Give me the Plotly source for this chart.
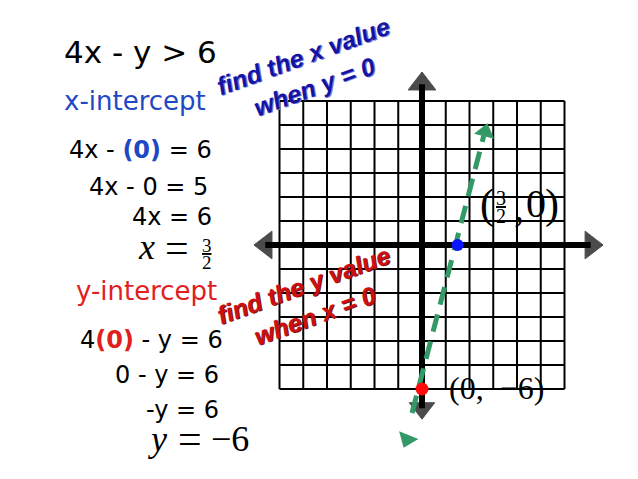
import plotly.graph_objects as go

W, H = 638, 479
OFF = 8  # page margin of the html body, figure starts 8px in
FW, FH = W - OFF, H - OFF

# coordinate plane grid, -6..6 both ways
grid_vals = list(range(-6, 7))

# thick black axes (ends of the line before the arrowheads)
x_axis_ends = [-6.6, 7.1]
y_axis_ends = [-6.8, 6.7]
x_arrow_left, x_arrow_right = -6.57, 7.12
y_arrow_top, y_arrow_bottom = 6.71, -6.8

# boundary line 4x - y = 6, dashed
line_x = [-0.42, 2.6]
line_y = [-7.0, 4.55]
tip_top = [2.66, 4.71]
tip_bottom = [-0.63, -8.1]

# intercepts
x_int = [1.5, 0]
y_int = [0, -6]

# pixel position of the origin (page pixels) and size of one grid unit
ox, oy, ux, uy = 422 - OFF, 245 - OFF, 23.75, 24
xr = [(0 - ox) / ux, (FW - ox) / ux]
yr = [(oy - FH) / uy, oy / uy]

fig = go.Figure()

gx, gy = [], []
for v in grid_vals:
    gx += [v, v, None]
    gy += [grid_vals[0], grid_vals[-1], None]
    gx += [grid_vals[0], grid_vals[-1], None]
    gy += [v, v, None]
fig.add_trace(go.Scatter(x=gx, y=gy, mode="lines",
                         line=dict(color="black", width=2), hoverinfo="skip"))

# axes
fig.add_trace(go.Scatter(x=x_axis_ends + [None, 0, 0], y=[0, 0, None] + y_axis_ends,
                         mode="lines", line=dict(color="black", width=6), hoverinfo="skip"))
fig.add_trace(go.Scatter(
    x=[x_arrow_left, x_arrow_right, 0, 0],
    y=[0, 0, y_arrow_top, y_arrow_bottom],
    mode="markers",
    marker=dict(symbol=["triangle-left", "triangle-right", "triangle-up", "triangle-down"],
                size=[24, 24, 24, 22], color="black",
                line=dict(color="black", width=1)),
    hoverinfo="skip"))

# dashed boundary
fig.add_trace(go.Scatter(x=line_x, y=line_y, mode="lines",
                         line=dict(color="#339966", width=5, dash="18px,10px"),
                         hoverinfo="skip"))
fig.add_trace(go.Scatter(
    x=[tip_top[0], tip_bottom[0]], y=[tip_top[1], tip_bottom[1]],
    mode="markers",
    marker=dict(symbol=["triangle-up", "triangle-down"], size=18,
                angle=[14, 22], color="#339966"),
    hoverinfo="skip"))

# intercept points
fig.add_trace(go.Scatter(x=[x_int[0]], y=[x_int[1]], mode="markers",
                         marker=dict(size=12, color="#0a14ff"), hoverinfo="skip"))
fig.add_trace(go.Scatter(x=[y_int[0]], y=[y_int[1]], mode="markers",
                         marker=dict(size=13, color="#ff0a0a"), hoverinfo="skip"))


def txt(px, py, text, size, color="black", family="DejaVu Sans",
        xanchor="center", angle=0, weight="normal", style="normal", shadow="none"):
    # px, py are page pixels of the reference slide
    fig.add_annotation(
        x=(px - OFF) / FW, y=1 - (py - OFF) / FH, xref="paper", yref="paper",
        text=text, showarrow=False, xanchor=xanchor, yanchor="middle",
        textangle=angle,
        font=dict(size=size, color=color, family=family, weight=weight,
                  style=style, shadow=shadow))


BLUE = "#1f48c4"
RED = "#e0201c"
SERIF = "Liberation Serif"

txt(140, 52, "4x - y > 6", 31)
txt(135, 101, "x-intercept", 26, BLUE)
txt(140, 150, f"4x - <b><span style='color:{BLUE}'>(0)</span></b> = 6", 24)
txt(148, 187, "4x - 0 = 5", 24)
txt(172, 217, "4x = 6", 24)
txt(146, 247, "<i>x</i>", 36, family=SERIF)
txt(177, 248, "=", 42, family=SERIF)
txt(207, 245, "<u>3</u>", 19, family=SERIF)
txt(207, 262, "2", 19, family=SERIF)

txt(146, 291, "y-intercept", 26, RED)
txt(151, 340, f"4<b><span style='color:{RED}'>(0)</span></b> - y = 6", 24)
txt(167, 375, "0 - y = 6", 24)
txt(182, 410, "-y = 6", 24)
txt(157, 439, "<i>y</i>", 36, family=SERIF)
txt(190, 439, "=", 42, family=SERIF)
txt(230, 439, "\u22126", 36, family=SERIF)

# point labels
txt(487, 204, "(", 42, family=SERIF)
txt(501, 198, "<u>3</u>", 20, family=SERIF)
txt(501, 216, "2", 20, family=SERIF)
txt(519, 207, ",", 40, family=SERIF)
txt(536, 203, "0", 40, family=SERIF)
txt(552, 204, ")", 42, family=SERIF)

txt(447, 388, "(0,\u2002\u22126)", 32, family=SERIF, xanchor="left")

# word-art notes
txt(309, 72, "find the x value<br>when y = 0", 25, "#1414a0",
    family="Liberation Sans", angle=-20, weight="bold", style="italic",
    shadow="1px 1px 0px #7a7ad8")
txt(309, 300, "find the y value<br>when x = 0", 25, "#cc1010",
    family="Liberation Sans", angle=-20, weight="bold", style="italic",
    shadow="1px 1px 0px #7a1010")

fig.update_layout(
    width=FW, height=FH, margin=dict(l=0, r=0, t=0, b=0),
    paper_bgcolor="white", plot_bgcolor="white", showlegend=False,
    xaxis=dict(range=xr, visible=False, fixedrange=True),
    yaxis=dict(range=yr, visible=False, fixedrange=True),
)

fig.write_html("out.html")
